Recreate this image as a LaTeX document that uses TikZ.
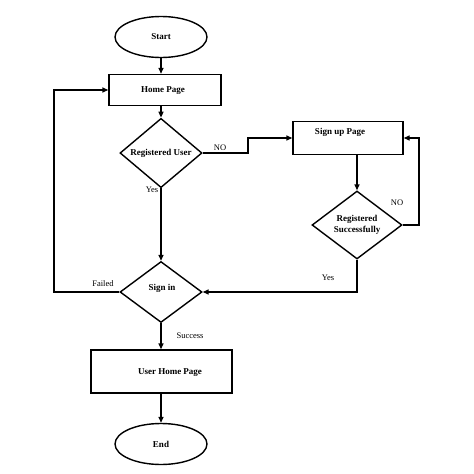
\documentclass[tikz,border=0pt]{standalone}
\usepackage{fontspec}
\setmainfont{Liberation Serif}
\usetikzlibrary{shapes.geometric,arrows.meta}
\begin{document}
\begin{tikzpicture}[x=1pt,y=-1pt,
  every path/.style={line width=1.4pt},
  arr/.style={-{Triangle[length=6pt,width=5pt]}},
  term/.style={ellipse,draw,minimum width=92pt,minimum height=41pt,inner sep=0pt,font=\bfseries\fontsize{9}{10.5}\selectfont},
  proc/.style={rectangle,draw,inner sep=0pt,font=\bfseries\fontsize{9}{10.5}\selectfont},
  dec/.style={diamond,draw,inner sep=0pt,font=\bfseries\fontsize{9}{10.5}\selectfont,align=center},
  txt/.style={font=\bfseries\fontsize{9}{10.5}\selectfont,inner sep=0pt},
  lbl/.style={font=\fontsize{8.5}{10}\selectfont,inner sep=0pt}]
\useasboundingbox (0,0) rectangle (474,474);
\node[term] (start) at (161,37) {Start};
\node[proc,minimum width=112pt,minimum height=31pt] (home) at (165,90) {};
\node[txt] (homet) at (163,91) {Home Page};
\node[dec,minimum width=82pt,minimum height=62pt] (reg) at (161,153) {Registered User};
\node[proc,minimum width=110pt,minimum height=33pt] (sign) at (348,138) {};
\node[txt] (signt) at (340,132) {Sign up Page};
\node[dec,minimum width=90pt,minimum height=68pt] (rs) at (357,225) {Registered\\Successfully};
\node[dec,minimum width=82pt,minimum height=61pt] (si) at (161,292) {};
\node[txt] (sit) at (162,288) {Sign in};
\node[proc,minimum width=141pt,minimum height=43pt] (uhp) at (161.5,371.5) {};
\node[txt] (uhpt) at (170,373) {User Home Page};
\node[term] (end) at (161,444) {End};

\coordinate (n1) at (248,153);
\coordinate (n2) at (248,138);
\coordinate (r1) at (419,225);
\coordinate (r2) at (419,138);
\coordinate (y1) at (357,292);
\coordinate (f1) at (54,292);
\coordinate (f2) at (54,90);

\draw[arr] (start.south) -- (start.south |- home.north);
\draw[arr] (reg.north |- home.south) -- (reg.north);
\draw[arr] (reg.east) -- (n1) -- (n2) -- (sign.west);
\draw[arr] (rs.north |- sign.south) -- (rs.north);
\draw[arr] (rs.east) -- (r1) -- (r2) -- (sign.east);
\draw[arr] (rs.south) -- (y1) -- (si.east);
\draw[arr] (reg.south) -- (si.north);
\draw[arr] (si.west) -- (f1) -- (f2) -- (home.west);
\draw[arr] (si.south) -- (si.south |- uhp.north);
\draw[arr] (end.north |- uhp.south) -- (end.north);

\node[lbl] (lno1) at (220,148) {NO};
\node[lbl] (lyes1) at (152,190) {Yes};
\node[lbl] (lno2) at (397,203) {NO};
\node[lbl] (lyes2) at (328,278) {Yes};
\node[lbl] (lfail) at (103,284) {Failed};
\node[lbl] (lsucc) at (190,336) {Success};
\end{tikzpicture}
\end{document}
